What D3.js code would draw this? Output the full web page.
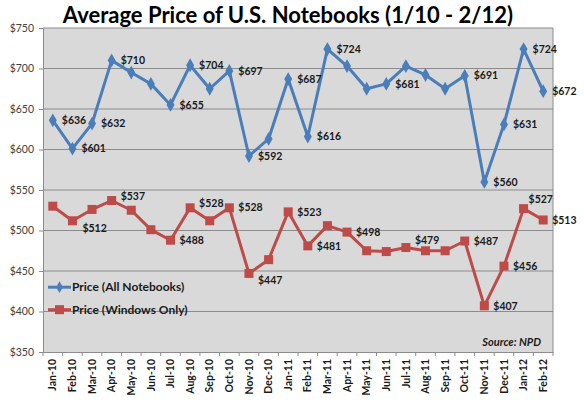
<!DOCTYPE html>
<meta charset="utf-8">
<script src="https://d3js.org/d3.v7.min.js"></script>
<style>
  body { margin: 0; background: #fff; }
  text { font-family: Lato, "Open Sans", sans-serif; }
</style>
<div id="chart"></div>
<script>

// data
var months = ["Jan-10","Feb-10","Mar-10","Apr-10","May-10","Jun-10","Jul-10","Aug-10","Sep-10","Oct-10","Nov-10","Dec-10",
              "Jan-11","Feb-11","Mar-11","Apr-11","May-11","Jun-11","Jul-11","Aug-11","Sep-11","Oct-11","Nov-11","Dec-11",
              "Jan-12","Feb-12"];
var allNotebooks = [636,601,632,710,695,681,655,704,675,697,592,613,687,616,724,703,675,681,703,692,675,691,560,631,724,672];
var windowsOnly  = [530,512,526,537,525,501,488,528,512,528,447,464,523,481,506,498,475,474,479,475,475,487,407,456,527,513];
var yTicks = [350,400,450,500,550,600,650,700,750];

// which points carry a value label
var allLabeled = ["Jan-10","Feb-10","Mar-10","Apr-10","Jul-10","Aug-10","Oct-10","Nov-10","Jan-11","Feb-11","Mar-11",
                  "Jun-11","Oct-11","Nov-11","Dec-11","Jan-12","Feb-12"];
var winLabeled = ["Feb-10","Apr-10","Jul-10","Aug-10","Oct-10","Nov-10","Jan-11","Feb-11","Apr-11","Jul-11","Oct-11",
                  "Nov-11","Dec-11","Jan-12","Feb-12"];

// label nudges (layout only)
var winNudge = {"Feb-10": [1, 8], "Apr-10": [0, -4], "Aug-10": [0, -4], "Nov-10": [0, 7], "Jul-11": [0, -7], "Jan-12": [-4, -9]};

var W = 584, H = 400;
var margin = {top: 28, right: 31, bottom: 48, left: 43};
var width = W - margin.left - margin.right,
    height = H - margin.top - margin.bottom;

var svg = d3.select("#chart").append("svg")
    .attr("width", W).attr("height", H)
  .append("g")
    .attr("transform", "translate(" + margin.left + "," + margin.top + ")");

var x = d3.scaleBand().domain(months).range([0, width]);
var y = d3.scaleLinear().domain([350, 750]).range([height, 0]);
var cx = function(m) { return x(m) + x.bandwidth() / 2; };

// plot background
svg.append("rect")
    .attr("width", width).attr("height", height)
    .attr("fill", "#d9d9d9");

// gridlines
svg.selectAll(".grid").data(yTicks.slice(1, -1)).enter().append("line")
    .attr("x1", 0).attr("x2", width)
    .attr("y1", function(d) { return y(d); }).attr("y2", function(d) { return y(d); })
    .attr("stroke", "#8c8c8c").attr("stroke-width", 1);

// frame top/right
svg.append("path")
    .attr("d", "M0,0H" + width + "V" + height)
    .attr("fill", "none").attr("stroke", "#8c8c8c");

// y axis
var yAxis = svg.append("g")
    .call(d3.axisLeft(y).tickValues(yTicks).tickSize(4).tickPadding(5).tickFormat(function(d) { return "$" + d; }));
yAxis.select(".domain").attr("stroke", "#8c8c8c");
yAxis.selectAll(".tick line").attr("stroke", "#8c8c8c");
yAxis.selectAll("text").attr("fill", "#404040").style("font-size", "10.5px");

// x axis
var xAxis = svg.append("g")
    .attr("transform", "translate(0," + height + ")")
    .call(d3.axisBottom(x).tickSize(0).tickPadding(6));
xAxis.select(".domain").attr("stroke", "#8c8c8c");
xAxis.selectAll("text")
    .attr("transform", "rotate(-90)")
    .attr("text-anchor", "end")
    .attr("x", -7).attr("y", 0).attr("dy", "0.35em")
    .attr("fill", "#1a1a1a")
    .style("font-size", "10.5px").style("font-weight", "bold");
// tick marks between categories
svg.selectAll(".xtick").data(months.concat(["end"])).enter().append("line")
    .attr("x1", function(d, i) { return i * x.step(); })
    .attr("x2", function(d, i) { return i * x.step(); })
    .attr("y1", height).attr("y2", height + 4)
    .attr("stroke", "#8c8c8c");

var line = d3.line()
    .x(function(d) { return cx(d.m); })
    .y(function(d) { return y(d.v); });

var allData = months.map(function(m, i) { return {m: m, v: allNotebooks[i]}; });
var winData = months.map(function(m, i) { return {m: m, v: windowsOnly[i]}; });

var blue = "#4a7ebb", red = "#be4b48";

svg.append("path").datum(allData).attr("d", line)
    .attr("fill", "none").attr("stroke", blue).attr("stroke-width", 3).attr("stroke-linejoin", "round");
svg.append("path").datum(winData).attr("d", line)
    .attr("fill", "none").attr("stroke", red).attr("stroke-width", 3).attr("stroke-linejoin", "round");

var diamond = d3.symbol().type(d3.symbolDiamond).size(55);
svg.selectAll(".pa").data(allData).enter().append("path")
    .attr("d", diamond)
    .attr("transform", function(d) { return "translate(" + cx(d.m) + "," + y(d.v) + ")"; })
    .attr("fill", blue);

svg.selectAll(".pw").data(winData).enter().append("rect")
    .attr("x", function(d) { return cx(d.m) - 4.5; })
    .attr("y", function(d) { return y(d.v) - 4.5; })
    .attr("width", 9).attr("height", 9)
    .attr("fill", red);

// value labels
svg.selectAll(".la").data(allData.filter(function(d) { return allLabeled.indexOf(d.m) >= 0; })).enter().append("text")
    .attr("x", function(d) { return cx(d.m) + 9; })
    .attr("y", function(d) { return y(d.v); })
    .attr("dy", "0.35em")
    .style("font-size", "10.5px").style("font-weight", "bold").attr("fill", "#1a1a1a")
    .text(function(d) { return "$" + d.v; });

svg.selectAll(".lw").data(winData.filter(function(d) { return winLabeled.indexOf(d.m) >= 0; })).enter().append("text")
    .attr("x", function(d) { return cx(d.m) + 9 + (winNudge[d.m] ? winNudge[d.m][0] : 0); })
    .attr("y", function(d) { return y(d.v) + (winNudge[d.m] ? winNudge[d.m][1] : 0); })
    .attr("dy", "0.35em")
    .style("font-size", "10.5px").style("font-weight", "bold").attr("fill", "#1a1a1a")
    .text(function(d) { return "$" + d.v; });

// legend
var legend = svg.append("g").attr("transform", "translate(5," + (y(430) ) + ")");
[["Price (All Notebooks)", blue, "d"], ["Price (Windows Only)", red, "s"]].forEach(function(it, i) {
  var g = legend.append("g").attr("transform", "translate(0," + (i * 22.5) + ")");
  g.append("line").attr("x1", 0).attr("x2", 23).attr("stroke", it[1]).attr("stroke-width", 3);
  if (it[2] == "d") {
    g.append("path").attr("d", d3.symbol().type(d3.symbolDiamond).size(40)).attr("transform", "translate(11.5,0)").attr("fill", it[1]);
  } else {
    g.append("rect").attr("x", 7).attr("y", -4.5).attr("width", 9).attr("height", 9).attr("fill", it[1]);
  }
  g.append("text").attr("x", 24).attr("dy", "0.35em")
      .style("font-size", "12px").style("font-weight", "bold").attr("fill", "#1a1a1a")
      .text(it[0]);
});

// source note
svg.append("text")
    .attr("x", width - 12).attr("y", y(358))
    .attr("text-anchor", "end")
    .style("font-size", "11px").style("font-weight", "bold").style("font-style", "italic")
    .attr("fill", "#1a1a1a")
    .text("Source: NPD");

// title
d3.select("svg").append("text")
    .attr("x", 288).attr("y", 23)
    .attr("text-anchor", "middle")
    .style("font-size", "22px").style("font-weight", "bold")
    .attr("fill", "#000")
    .text("Average Price of U.S. Notebooks (1/10 - 2/12)");

</script>
